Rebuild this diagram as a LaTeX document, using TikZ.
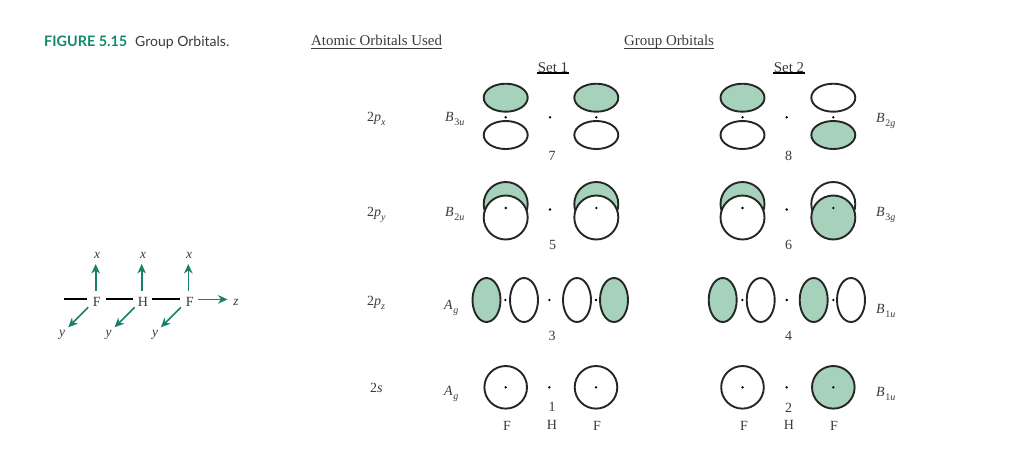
\documentclass[tikz,border=0pt]{standalone}
\usepackage{fontspec}
\setmainfont{Liberation Serif}
\newfontfamily\headfont{Lato}
\definecolor{lobe}{HTML}{A6D2BB}
\definecolor{axisgreen}{HTML}{16806A}
\definecolor{headgreen}{HTML}{118A6C}
\definecolor{inkgray}{HTML}{3A3A3A}
\newcommand{\subs}[1]{\raisebox{-3.5pt}{\fontsize{10}{11}\selectfont #1}}
\newcommand{\symlab}[3]{\textit{#1}\kern0.5pt\subs{#2\textit{#3}}}
\usetikzlibrary{arrows.meta}
\tikzset{
  x=1pt,y=-1pt,
  lab/.style={font=\fontsize{14}{16}\selectfont,text=inkgray,inner sep=0pt},
  toplab/.style={font=\fontsize{14.9}{16}\selectfont,text=inkgray,inner sep=0pt},
  atomlab/.style={font=\fontsize{14}{16}\selectfont,text=inkgray,inner sep=1.5pt},
  axislab/.style={font=\fontsize{13.5}{15}\itshape\selectfont,text=inkgray,inner sep=1pt},
  orb/.style={draw=black!85,line width=1.9pt,fill=white},
  green lobe/.style={orb,fill=lobe},
  nuc/.style={fill=black,draw=none},
  axisarrow/.style={draw=axisgreen,line width=1.6pt,-{Stealth[length=9.5pt,width=8.5pt]}},
  bond/.style={draw=black,line width=2pt},
  rule/.style={draw=inkgray,line width=0.8pt},
  thickrule/.style={draw=black,line width=1.6pt},
}
\newcommand{\nucdot}[2]{\fill[nuc] (#1,#2) circle (1.3);}
\begin{document}
\begin{tikzpicture}
\useasboundingbox (0,0) rectangle (1024,472);
% heading
\node[anchor=base west,inner sep=0pt,font=\headfont\bfseries\fontsize{14.4}{16}\selectfont,text=headgreen] (figno) at (44,46) {FIGURE 5.15};
\node[anchor=base west,inner sep=0pt,font=\headfont\fontsize{14}{16}\selectfont,text=inkgray] (figtitle) at (135,46) {Group Orbitals.};
\node[toplab,anchor=base west] (aou) at (311,45.5) {Atomic Orbitals Used};
\node[toplab,anchor=base west] (go) at (624,45.5) {Group Orbitals};
\node[toplab] (set1) at (553,68) {Set 1};
\node[toplab] (set2) at (789,68) {Set 2};
\draw[rule] ([yshift=-2.4pt]aou.base west) -- ([yshift=-2.4pt]aou.base east);
\draw[rule] ([yshift=-2.4pt]go.base west) -- ([yshift=-2.4pt]go.base east);
\draw[thickrule] ([xshift=-1pt]set1.south west) -- ([xshift=1pt]set1.south east);
\draw[thickrule] ([xshift=-1pt]set2.south west) -- ([xshift=1pt]set2.south east);
% atoms
\node[atomlab] (F1) at (96.7,302) {F};
\node[atomlab] (H) at (143,302) {H};
\node[atomlab] (F2) at (189.7,302) {F};
\coordinate (bondstart) at (64,299.4);
\coordinate (zend) at (227.5,299.4);
\node[axislab] (x1) at (97,255) {x};
\node[axislab] (x2) at (143,255) {x};
\node[axislab] (x3) at (189,255) {x};
\node[axislab] (y1) at (62,335) {y};
\node[axislab] (y2) at (108.5,335) {y};
\node[axislab] (y3) at (155,335) {y};
\node[axislab] (z) at (236,302) {z};
\draw[bond] (bondstart) -- (86.7,299.4);
\draw[bond] (106,299.4) -- (133.3,299.4);
\draw[bond] (152,299.4) -- (180,299.4);
\draw[axisarrow] (95.7,291) -- (95.7,264);
\draw[axisarrow] (141.7,291) -- (141.7,264);
\draw[axisarrow] (188.3,291) -- (188.3,264);
\draw[axisarrow] (88.3,307.3) -- (68.3,327.3);
\draw[axisarrow] (134.6,307.3) -- (114.6,327.3);
\draw[axisarrow] (180.9,307.3) -- (160.9,327.3);
\draw[axisarrow] (198.3,299.4) -- (zend);
% row labels
\node[lab,anchor=west] at (367,119) {2\textit{p}\subs{\textit{x}}};
\node[lab,anchor=west] at (367,215) {2\textit{p}\subs{\textit{y}}};
\node[lab,anchor=west] at (367,303) {2\textit{p}\subs{\textit{z}}};
\node[lab,anchor=west] at (370,388) {2\textit{s}};
\node[lab,anchor=west] at (445,119) {\symlab{B}{3}{u}};
\node[lab,anchor=west] at (445,214) {\symlab{B}{2}{u}};
\node[lab,anchor=west] at (444,308) {\symlab{A}{}{g}};
\node[lab,anchor=west] at (444,394) {\symlab{A}{}{g}};
\node[lab,anchor=west] at (876,121) {\symlab{B}{2}{g}};
\node[lab,anchor=west] at (876,215) {\symlab{B}{3}{g}};
\node[lab,anchor=west] at (876,311) {\symlab{B}{1}{u}};
\node[lab,anchor=west] at (876,394) {\symlab{B}{1}{u}};
% numbers
\node[lab] at (552,156) {7};
\node[lab] at (788.5,156) {8};
\node[lab] at (552.5,245) {5};
\node[lab] at (788.5,245) {6};
\node[lab] at (552,336) {3};
\node[lab] at (788.5,336) {4};
\node[lab] at (552,407) {1};
\node[lab] at (788.5,408) {2};
\node[lab] at (507,426) {F};
\node[lab] at (552,425) {H};
\node[lab] at (597,426) {F};
\node[lab] at (744,426) {F};
\node[lab] at (789,425) {H};
\node[lab] at (834,426) {F};
% 2px
\draw[green lobe] (505.7,97.7) ellipse (22 and 14);
\draw[orb] (505.7,135) ellipse (22 and 14);
\draw[green lobe] (596.3,97.7) ellipse (22 and 14);
\draw[orb] (596.3,135) ellipse (22 and 14);
\draw[green lobe] (742.5,97.7) ellipse (22 and 14);
\draw[orb] (742.5,135) ellipse (22 and 14);
\draw[orb] (833.3,97.7) ellipse (22 and 14);
\draw[green lobe] (833.3,135) ellipse (22 and 14);
\nucdot{505.7}{117.3}\nucdot{550}{117.3}\nucdot{596.3}{117.3}
\nucdot{742.5}{117.3}\nucdot{786.7}{117.3}\nucdot{833.3}{117.3}
% 2py
\draw[green lobe] (505.7,204) circle (22);
\draw[orb] (505.7,217.5) circle (22);
\draw[green lobe] (596.3,204) circle (22);
\draw[orb] (596.3,217.5) circle (22);
\draw[green lobe] (742.5,204) circle (22);
\draw[orb] (742.5,217.5) circle (22);
\draw[orb] (833.3,204) circle (22);
\draw[green lobe] (833.3,217.5) circle (22);
\nucdot{505.7}{208}\nucdot{550}{209.5}\nucdot{596.3}{208}
\nucdot{742.5}{208}\nucdot{786.7}{209.5}\nucdot{833.3}{208}
% 2pz
\draw[green lobe] (486.5,300) ellipse (14 and 22);
\draw[orb] (524,300) ellipse (14 and 22);
\draw[orb] (577,300) ellipse (14 and 22);
\draw[green lobe] (614,300) ellipse (14 and 22);
\draw[green lobe] (722.7,300) ellipse (14 and 22);
\draw[orb] (760.7,300) ellipse (14 and 22);
\draw[green lobe] (813.7,300) ellipse (14 and 22);
\draw[orb] (851,300) ellipse (14 and 22);
\nucdot{505.3}{300}\nucdot{549.3}{300}\nucdot{596}{300}
\nucdot{742.3}{300}\nucdot{786.7}{300}\nucdot{833.3}{300}
% 2s
\draw[orb] (505.7,387.3) circle (21.3);
\draw[orb] (596,387.3) circle (21.3);
\draw[orb] (742.5,387.3) circle (21.3);
\draw[green lobe] (833.3,387.3) circle (21.3);
\nucdot{505.7}{387.3}\nucdot{549.3}{387.3}\nucdot{596}{387.3}
\nucdot{742.5}{387.3}\nucdot{786.7}{387.3}\nucdot{833.3}{387.3}
\end{tikzpicture}
\end{document}
